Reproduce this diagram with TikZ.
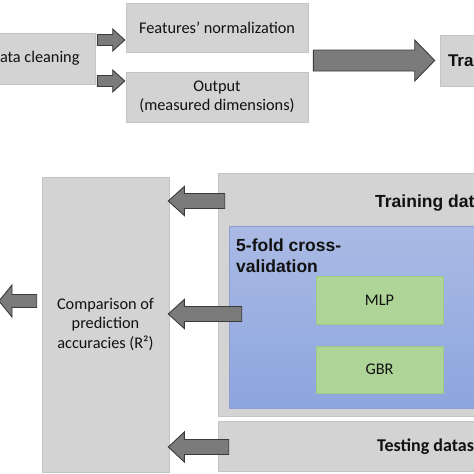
\documentclass[tikz,border=0pt]{standalone}
\usepackage{fontspec}
\setmainfont{Carlito}
\newfontfamily\arialfont{Liberation Sans}
\usetikzlibrary{calc}
\definecolor{boxfill}{HTML}{D3D3D3}
\definecolor{boxline}{HTML}{C4C4C4}
\definecolor{arrfill}{HTML}{7B7B7B}
\definecolor{arrline}{HTML}{3A3A3A}
\definecolor{bluetop}{HTML}{AABAE4}
\definecolor{bluebot}{HTML}{8DA5DE}
\definecolor{blueline}{HTML}{8C9ED2}
\definecolor{greenfill}{HTML}{AED597}
\definecolor{greenline}{HTML}{A0CB87}
\definecolor{txt}{HTML}{111111}
\newcommand\blockarrow[5]{%
  \draw[barr] let \p1=#1, \p2=#2, \n1={ifthenelse(\x2>\x1,1,-1)} in
   (\x1,\y2+#3) -- (\x2-\n1*#5,\y2+#3) -- (\x2-\n1*#5,\y2+#4) -- (\x2,\y2)
   -- (\x2-\n1*#5,\y2-#4) -- (\x2-\n1*#5,\y2-#3) -- (\x1,\y2-#3) -- cycle;}
\begin{document}
\begin{tikzpicture}[x=1pt,y=-1pt,
  box/.style={draw=boxline, fill=boxfill, line width=0.6pt, inner sep=0pt, align=center,
    text=txt, font=\fontsize{16.3}{19.5}\selectfont},
  greenbox/.style={box, draw=greenline, fill=greenfill},
  bluebox/.style={draw=blueline, line width=0.6pt, top color=bluetop, bottom color=bluebot, inner sep=0pt},
  title/.style={inner sep=0pt, text=txt, font=\arialfont\bfseries\fontsize{17.5}{21}\selectfont, align=flush left},
  ctitle/.style={inner sep=0pt, text=txt, font=\bfseries\fontsize{18}{21}\selectfont},
  barr/.style={draw=arrline, fill=arrfill, line width=0.9pt, line join=miter},
]
\useasboundingbox (0,0) rectangle (474,474);
\clip (0,0) rectangle (474,474);
\fill[white] (0,0) rectangle (474,474);

% top row
\node[box, minimum width=96pt, minimum height=51pt, text width=94pt, align=flush left, inner xsep=1pt] (clean) at (47,58.5) {ata cleaning};
\node[box, minimum width=182pt, minimum height=49pt] (feat) at (217,27.5) {Features’ normalization};
\node[box, minimum width=182pt, minimum height=50pt] (out) at (217,97) {Output\\(measured dimensions)};
\node[box, minimum width=34pt, minimum height=51pt, text width=26pt, align=flush left, inner xsep=8pt,
      font=\arialfont\bfseries\fontsize{17}{20}\selectfont] (tra) at (461,60.5) {Tra};

\blockarrow{($(clean.east|-0,40)+(2,0)$)}{($(feat.west|-0,40)+(-1,0)$)}{5.5pt}{11pt}{12pt}
\blockarrow{($(clean.east|-0,81)+(2,0)$)}{($(out.west|-0,81)+(-1,0)$)}{5.5pt}{11pt}{12pt}
\blockarrow{($(feat.east|-0,60.5)+(5,0)$)}{($(tra.west|-0,60.5)+(-5,0)$)}{10.5pt}{20.5pt}{20pt}

% bottom part
\node[box, minimum width=127pt, minimum height=295pt] (comp) at (105.5,324.5) {Comparison of\\prediction\\accuracies (R²)};
\node[box, minimum width=258pt, minimum height=243pt] (train) at (347,294.5) {};
\node[ctitle, anchor=base west, font=\arialfont\bfseries\fontsize{17.5}{20}\selectfont] (traintitle) at (375,207) {Training dat};
\node[bluebox, minimum width=247pt, minimum height=182pt] (cv) at (352.5,317) {};
\node[title, anchor=north west] (cvtitle) at (236,239) {5-fold cross-\\validation};
\node[greenbox, minimum width=127pt, minimum height=48pt] (mlp) at (379.5,300) {MLP};
\node[greenbox, minimum width=127pt, minimum height=47pt] (gbr) at (379.5,369.5) {GBR};
\node[box, minimum width=258pt, minimum height=50pt] (test) at (347,446) {};
\node[ctitle, anchor=base west] (testtitle) at (377,451.5) {Testing datas};

\blockarrow{($(train.west|-0,201)+(7,0)$)}{($(comp.east|-0,201)+(-1,0)$)}{7.5pt}{14.5pt}{16pt}
\blockarrow{($(cv.west|-0,314)+(13,0)$)}{($(comp.east|-0,314)+(-1,0)$)}{7.5pt}{14.5pt}{16pt}
\blockarrow{($(test.west|-0,447)+(11,0)$)}{($(comp.east|-0,447)+(-1,0)$)}{7.5pt}{15pt}{16pt}
\blockarrow{($(comp.west|-0,301)+(-5,0)$)}{(-1,301)}{6.5pt}{16pt}{13pt}
\end{tikzpicture}
\end{document}
